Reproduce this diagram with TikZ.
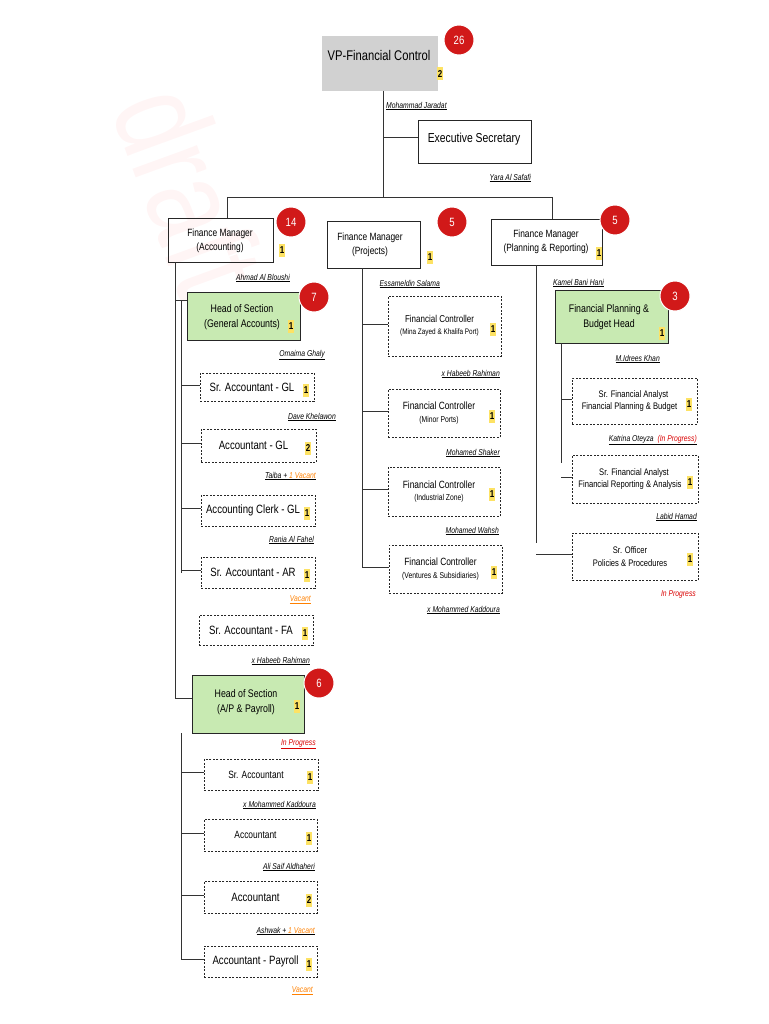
\documentclass[tikz,border=0pt]{standalone}
\usepackage{fontspec}
\setmainfont{Liberation Sans}[FakeStretch=0.8]
\begin{document}
\begin{tikzpicture}[x=1pt,y=-1pt,
 box/.style={draw=black!85,line width=0.8pt,minimum width=#1,inner sep=1pt,align=center,anchor=north west},
 sbox/.style={draw=black!85,line width=0.7pt,dashed,dash pattern=on 2pt off 1.5pt,inner sep=1pt,align=center,anchor=north west},
 badge/.style={fill=yellow!70!orange!60,inner sep=0.8pt,minimum height=13pt,font=\fontsize{10}{10}\selectfont\bfseries},
 circ/.style={circle,fill=red!80!black!90,draw=white,line width=1pt,minimum size=30pt,text=white,font=\fontsize{12}{12}\selectfont,inner sep=0pt},
 nm/.style={font=\fontsize{8.5}{8.5}\selectfont\itshape,anchor=east,inner sep=0pt},
 ln/.style={line width=0.8pt,black!80}]
\useasboundingbox (0,0) rectangle (768,1024);
\node[text=red!4,font=\fontsize{130}{130}\selectfont,rotate=-70] (wm) at (190,190) {draft};
\newcommand\bx[6]{\node[#1,minimum width=#4-#2,minimum height=#5-#3] (#6) at (#2,#3) {};}
% VP
\bx{box,fill=black!18,draw=black!18}{322}{36}{437}{90}{vp}
\node[font=\fontsize{14}{14}\selectfont] (vpt) at (379,55) {VP-Financial Control};
\node[badge] (vpb) at (440,74) {2};
\node[circ] (vpc) at (459,40) {26};
\bx{box}{418}{120}{531}{163}{es}
\node[font=\fontsize{13}{13}\selectfont] (est) at (474,139) {Executive Secretary};
\node[nm,anchor=west] (n1) at (386,106) {\underline{Mohammad Jaradat}};
\node[nm] (n2) at (531,178) {\underline{Yara Al Safafi}};
\coordinate (b1) at (383,197);
\coordinate (b0) at (227,197);
\coordinate (b2) at (552,197);
\draw[ln] (vp.south -| b1) -- (b1);
\draw[ln] (383,137) coordinate (e0) -- (es.west |- e0);
\draw[ln] (b0) -- (b2);
% FMs
\bx{box}{168}{218}{273}{262}{fma}
\node[align=center,font=\fontsize{10.5}{14}\selectfont] (fmat) at (220,241) {Finance Manager\\(Accounting)};
\node[badge] (fmab) at (282,250) {1};
\node[circ] (fmac) at (291,222) {14};
\draw[ln] (b0) -- (b0 |- fma.north);
\bx{box}{327}{221}{420}{268}{fmp}
\node[align=center,font=\fontsize{10.5}{14}\selectfont] (fmpt) at (370,245) {Finance Manager\\(Projects)};
\node[badge] (fmpb) at (430,257) {1};
\node[circ] (fmpc) at (452,222) {5};
\bx{box}{491}{219}{602}{265}{fmr}
\node[align=center,font=\fontsize{10.5}{14}\selectfont] (fmrt) at (546,242) {Finance Manager\\(Planning \& Reporting)};
\node[badge] (fmrb) at (599,253) {1};
\node[circ] (fmrc) at (615,220) {5};
\draw[ln] (b2) -- (b2 |- fmr.north);
% Accounting column
\node[nm] (a0) at (290,278) {\underline{Ahmad Al Bloushi}};
\bx{box,fill=green!45!olive!30!white}{187}{292}{300}{340}{hga}
\node[align=center,font=\fontsize{11}{15}\selectfont] (hgat) at (242,317) {Head of Section\\(General Accounts)};
\node[badge] (hgab) at (291,326) {1};
\node[circ] (hgac) at (314,297) {7};
\coordinate (ac1) at (175,262);
\coordinate (ac2) at (175,698);
\draw[ln] (ac1) -- (ac2);
\coordinate (g1) at (181,300);
\coordinate (g2) at (181,573);
\draw[ln] (175,300) -- (hga.west |- 0,300);
\draw[ln] (g1) -- (g2);
\newcommand\child[9]{%
 \bx{sbox}{#1}{#2}{#3}{#4}{#5}
 \node[font=\fontsize{#7}{#7}\selectfont,align=center] (#5t) at ({(#1+#3)/2-5},{(#2+#4)/2}) {#6};
 \node[badge] (#5b) at ({#3-8},{(#2+#4)/2+3}) {#8};
 \draw[ln] (#9,{(#2+#4)/2-2}) -- (#5.west |- 0,{(#2+#4)/2-2});}
\child{200}{373}{314}{401}{c1}{Sr. Accountant - GL}{12}{1}{181}
\node[nm] (l1) at (325,355) {\underline{Omaima Ghaly}};
\child{201}{429}{316}{462}{c2}{Accountant - GL}{12}{2}{181}
\node[nm] (l2) at (336,417) {\underline{Dave Khelawon}};
\child{201}{495}{315}{526}{c3}{Accounting Clerk - GL}{12}{1}{181}
\node[nm] (l3) at (316,476) {\underline{Taiba + \textcolor{orange}{1 Vacant}}};
\child{201}{557}{315}{588}{c4}{Sr. Accountant - AR}{12}{1}{181}
\node[nm] (l4) at (314,540) {\underline{Rania Al Fahel}};
\bx{sbox}{199}{615}{313}{645}{c5}
\node[font=\fontsize{12}{12}\selectfont] (c5t) at (251,630) {Sr. Accountant - FA};
\node[badge] (c5b) at (305,633) {1};
\node[nm,text=orange] (l5) at (311,600) {\underline{Vacant}};
\node[nm] (l6) at (310,661) {\underline{x Habeeb Rahiman}};
\bx{box,fill=green!45!olive!30!white}{192}{675}{304}{733}{hap}
\node[align=center,font=\fontsize{11}{15}\selectfont] (hapt) at (246,702) {Head of Section\\(A/P \& Payroll)};
\node[badge] (hapb) at (297,706) {1};
\node[circ] (hapc) at (319,683) {6};
\draw[ln] (ac2) -- (hap.west |- ac2);
\coordinate (p1) at (181,733);
\coordinate (p2) at (181,959);
\draw[ln] (p1) -- (p2);
\node[nm,text=red!85!black] (l7) at (316,744) {\underline{In Progress}};
\child{204}{759}{318}{790}{d1}{Sr. Accountant}{10.5}{1}{181}
\node[nm] (l8) at (316,805) {\underline{x Mohammed Kaddoura}};
\child{204}{819}{317}{851}{d2}{Accountant}{10.5}{1}{181}
\node[nm] (l9) at (315,867) {\underline{Ali Saif Aldhaheri}};
\child{204}{881}{317}{913}{d3}{Accountant}{12}{2}{181}
\node[nm] (l10) at (315,931) {\underline{Ashwak + \textcolor{orange}{1 Vacant}}};
\child{204}{946}{317}{977}{d4}{Accountant - Payroll}{12}{1}{181}
\node[nm,text=orange] (l11) at (313,991) {\underline{Vacant}};
% Projects column
\coordinate (q1) at (362,268);
\coordinate (q2) at (362,567);
\draw[ln] (q1) -- (q2);
\node[nm] (m0) at (440,284) {\underline{Essameldin Salama}};
\child{388}{296}{501}{356}{f1}{Financial Controller\\[2pt]{\fontsize{8}{8}\selectfont(Mina Zayed \& Khalifa Port)}}{10}{1}{362}
\child{388}{389}{500}{437}{f2}{Financial Controller\\[2pt]{\fontsize{8.5}{8}\selectfont(Minor Ports)}}{10.5}{1}{362}
\node[nm] (m1) at (500,374) {\underline{x Habeeb Rahiman}};
\child{388}{467}{500}{516}{f3}{Financial Controller\\[2pt]{\fontsize{8.5}{8}\selectfont(Industrial Zone)}}{10.5}{1}{362}
\node[nm] (m2) at (500,453) {\underline{Mohamed Shaker}};
\child{389}{545}{502}{593}{f4}{Financial Controller\\[2pt]{\fontsize{8.5}{8}\selectfont(Ventures \& Subsidiaries)}}{10.5}{1}{362}
\node[nm] (m3) at (499,531) {\underline{Mohamed Wahsh}};
\node[nm] (m4) at (500,610) {\underline{x Mohammed Kaddoura}};
% Planning column
\coordinate (r1) at (536,265);
\coordinate (r2) at (536,543);
\draw[ln] (r1) -- (r2);
\node[nm] (k0) at (604,283) {\underline{Kamel Bani Hani}};
\bx{box,fill=green!45!olive!30!white}{555}{290}{668}{343}{fpb}
\node[align=center,font=\fontsize{11}{15}\selectfont] (fpbt) at (609,317) {Financial Planning \&\\Budget Head};
\node[badge] (fpbb) at (662,333) {1};
\node[circ] (fpbc) at (675,296) {3};
\coordinate (s1) at (561,343);
\coordinate (s2) at (561,463);
\draw[ln] (s1) -- (s2);
\node[nm] (k1) at (660,359) {\underline{M.Idrees Khan}};
\child{572}{378}{697}{424}{h1}{\hspace*{8pt}Sr. Financial Analyst\\[3pt]Financial Planning \& Budget}{9.5}{1}{561}
\node[nm] (k2) at (697,440) {\underline{Katrina Oteyza \ \textcolor{red!85!black}{(In Progress)}}};
\child{572}{455}{698}{503}{h2}{\hspace*{8pt}Sr. Financial Analyst\\[3pt]Financial Reporting \& Analysis}{9.5}{1}{561}
\node[nm] (k3) at (697,517) {\underline{Labid Hamad}};
\child{572}{533}{698}{580}{h3}{Sr. Officer\\[3pt]Policies \& Procedures}{9.5}{1}{536}
\node[nm,text=red!85!black] (k4) at (696,594) {In Progress};
\end{tikzpicture}
\end{document}
